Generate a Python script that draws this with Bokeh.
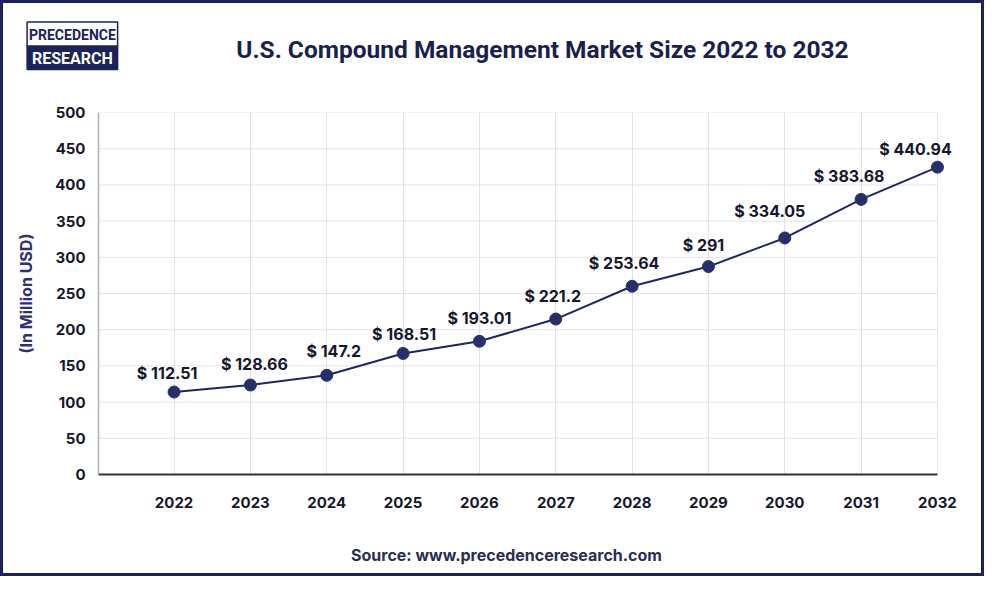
from bokeh.plotting import figure
from bokeh.layouts import column
from bokeh.models import Range1d, FixedTicker, ColumnDataSource, LabelSet
from bokeh.core.properties import value
from bokeh.embed import file_html
from bokeh.resources import INLINE

# ---- data ----
years = [2022, 2023, 2024, 2025, 2026, 2027, 2028, 2029, 2030, 2031, 2032]
values = [113.9, 123.6, 137.0, 167.2, 184.0, 214.7, 260.0, 287.2, 326.7, 380.0, 424.5]
value_labels = ["$ 112.51", "$ 128.66", "$ 147.2", "$ 168.51", "$ 193.01", "$ 221.2",
                "$ 253.64", "$ 291", "$ 334.05", "$ 383.68", "$ 440.94"]
y_ticks = [0, 50, 100, 150, 200, 250, 300, 350, 400, 450, 500]
title_text = "U.S. Compound Management Market Size 2022 to 2032"
y_axis_title = "(In Million USD)"
source_text = "Source: www.precedenceresearch.com"
logo_top = "PRECEDENCE"
logo_bottom = "RESEARCH"

# label nudges (styling, px)
label_dx = [-7, 4, 7, 1, 0, -3, -8, -5, -15, -12, -22]
label_dy = [19, 21, 24, 19, 23, 23, 23, 22, 27, 23, 18]

NAVY = "#1c2358"
TXT = "#16162c"
W = 978
HEAD_H, MAIN_H, FOOT_H = 95, 440, 35
X_START, X_END = 2021.01, 2032.21


def bare(fig):
    fig.grid.visible = False
    fig.outline_line_color = None
    fig.background_fill_color = "white"
    fig.border_fill_color = "white"
    fig.min_border = 0
    fig.min_border_left = 0
    fig.min_border_right = 0
    fig.min_border_top = 0
    fig.min_border_bottom = 0
    fig.frame_align = False


# ---- header (logo + title) ----
head = figure(width=W, height=HEAD_H, output_backend="svg", toolbar_location=None,
              x_axis_location=None, y_axis_location=None,
              x_range=Range1d(0, W), y_range=Range1d(HEAD_H, 0))
bare(head)
head.quad(left=[23.6], right=[114.1], top=[18.4], bottom=[42.7],
          fill_color="white", line_color=NAVY, line_width=1.5)
head.quad(left=[23.6], right=[114.1], top=[42.7], bottom=[66.1],
          fill_color=NAVY, line_color=NAVY, line_width=1.5)
head.text(x=[68.9], y=[31], text=[logo_top], text_align="center", text_baseline="middle",
          text_font=value("Roboto"), text_font_style="bold",
          text_font_size="14px", text_color=NAVY)
head.text(x=[68.9], y=[55], text=[logo_bottom], text_align="center", text_baseline="middle",
          text_font=value("Roboto"), text_font_style="bold",
          text_font_size="16px", text_color="white")
head.text(x=[539], y=[46], text=[title_text], text_align="center", text_baseline="middle",
          text_font=value("Roboto"), text_font_style="bold",
          text_font_size="24.5px", text_color="#1b1f4e")

# ---- main chart ----
p = figure(width=W, height=MAIN_H, output_backend="svg", toolbar_location=None,
           x_range=Range1d(X_START, X_END), y_range=Range1d(0, 500),
           min_border_left=95, min_border_right=28, min_border_top=14, min_border_bottom=64)
p.frame_align = False
p.outline_line_color = None
p.background_fill_color = "white"
p.border_fill_color = "white"

p.xaxis.ticker = FixedTicker(ticks=years)
p.yaxis.ticker = FixedTicker(ticks=y_ticks)
p.xaxis.bounds = (X_START, 2032)
for ax in (p.xaxis[0], p.yaxis[0]):
    ax.major_tick_line_color = None
    ax.minor_tick_line_color = None
    ax.major_label_text_font = "Inter"
    ax.major_label_text_font_style = "bold"
    ax.major_label_text_font_size = "15px"
    ax.major_label_text_color = TXT
p.xaxis.axis_line_color = "#333333"
p.xaxis.axis_line_width = 2
p.xaxis.major_label_standoff = 16
p.yaxis.axis_line_color = "#b0b0b0"
p.yaxis.axis_line_width = 1.5
p.yaxis.major_label_standoff = 7
p.yaxis.axis_label = y_axis_title
p.yaxis.axis_label_text_font = "Inter"
p.yaxis.axis_label_text_font_style = "bold"
p.yaxis.axis_label_text_font_size = "16px"
p.yaxis.axis_label_text_color = "#2b3175"
p.yaxis.axis_label_standoff = 16

p.xgrid.grid_line_color = "#e3e3e3"
p.xgrid.grid_line_width = 1
p.ygrid.visible = False
# horizontal grid lines limited to the plotted span
p.segment(x0=[X_START] * len(y_ticks), x1=[2032] * len(y_ticks), y0=y_ticks, y1=y_ticks,
          line_color="#e3e3e3", line_width=1)

src = ColumnDataSource(dict(x=years, y=values, lab=value_labels, dx=label_dx, dy=label_dy))
p.line("x", "y", source=src, line_color="#1f2660", line_width=2)
p.scatter("x", "y", source=src, size=12, fill_color="#25306b", line_color="#25306b")

labels = LabelSet(x="x", y="y", text="lab", source=src, x_offset="dx", y_offset="dy",
                  text_align="center", text_baseline="middle",
                  text_font=value("Inter"), text_font_style="bold", text_font_size="16px",
                  text_color=TXT)
p.add_layout(labels)

# ---- footer (source) ----
foot = figure(width=W, height=FOOT_H, output_backend="svg", toolbar_location=None,
              x_axis_location=None, y_axis_location=None,
              x_range=Range1d(0, W), y_range=Range1d(FOOT_H, 0))
bare(foot)
foot.text(x=[503], y=[16], text=[source_text], text_align="center", text_baseline="middle",
          text_font=value("Inter"), text_font_style="bold",
          text_font_size="16px", text_color="#2a2d55")

layout = column(head, p, foot, spacing=0)
layout.styles = {"border": f"3px solid {NAVY}", "background-color": "white"}

open("out.html", "w").write(file_html(layout, INLINE))
